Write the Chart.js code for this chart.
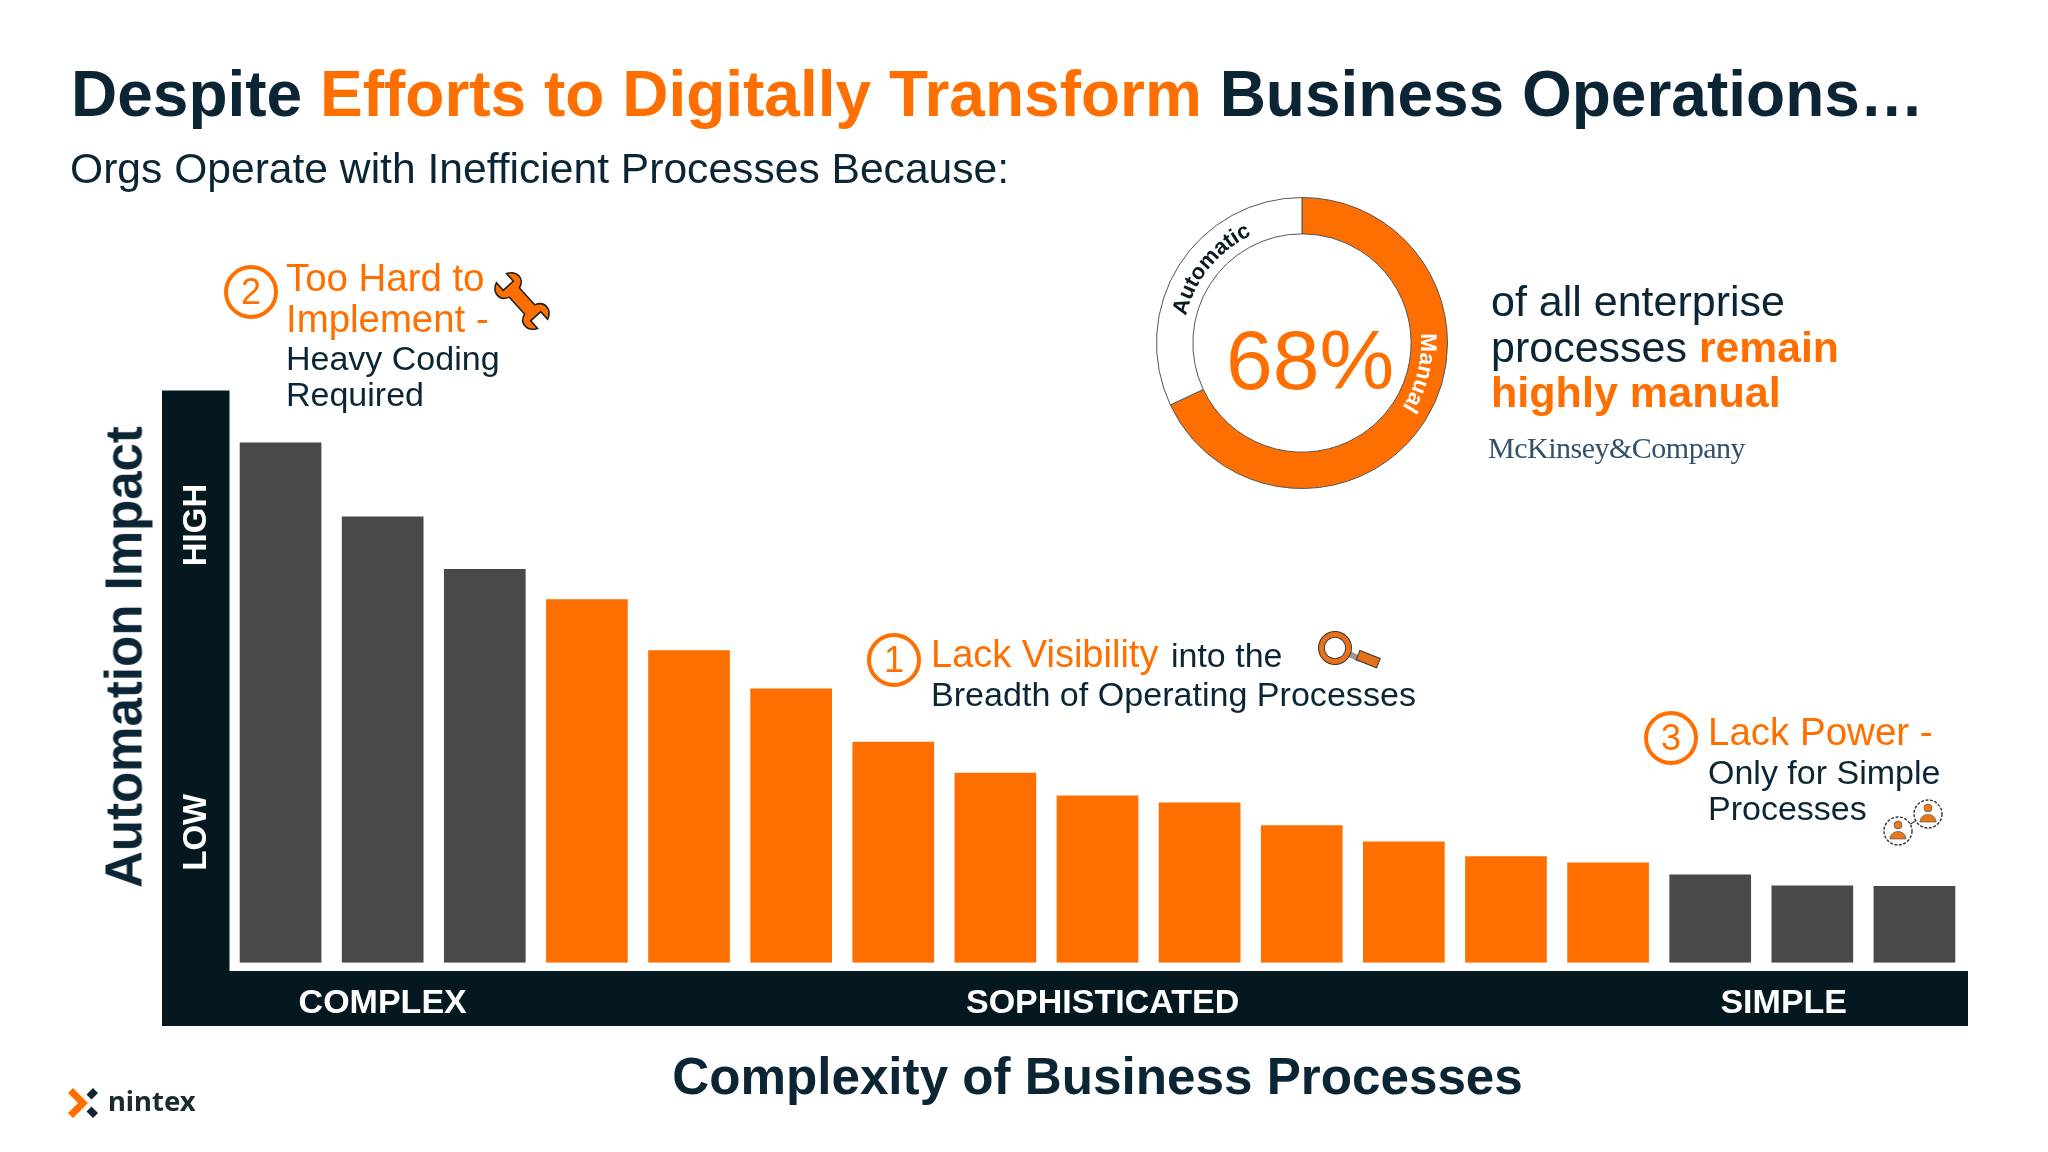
<!DOCTYPE html>
<html>
<head>
<meta charset="utf-8">
<title>Automation Impact</title>
<script src="https://cdn.jsdelivr.net/npm/chart.js@4"></script>
<style>
  html, body { margin: 0; background: #fff; }
  body { position: relative; width: 2048px; height: 1152px; overflow: hidden; font-family: "Liberation Sans", Arial, sans-serif; color: #0b2534; }
  canvas { position: absolute; }
  .t { position: absolute; white-space: nowrap; line-height: 1; }
  .o { color: #ff6f00; }
  .b { font-weight: bold; }
  .num { position: absolute; width: 46px; height: 46px; border: 4px solid #ff6f00; border-radius: 50%; color: #ff6f00; font-size: 36px; line-height: 46px; text-align: center; }
  svg { position: absolute; overflow: visible; }
</style>
</head>
<body>
<canvas id="bars" width="2048" height="1152" style="left:0;top:0"></canvas>
<canvas id="donut" width="292" height="292" style="left:1156px;top:197px"></canvas>

<div class="t b" style="left:71px;top:62px;font-size:64px">Despite <span class="o">Efforts to Digitally Transform</span> Business Operations…</div>
<div class="t" style="left:70px;top:147px;font-size:42.6px">Orgs Operate with Inefficient Processes Because:</div>

<!-- curved labels on the ring -->
<svg style="left:1156px;top:197px" width="292" height="292">
  <path id="arcAuto" fill="none"></path>
  <path id="arcManual" fill="none"></path>
  <text font-size="22" font-weight="bold" fill="#0b1a22" text-anchor="middle"><textPath href="#arcAuto" startOffset="50%">Automatic</textPath></text>
  <text font-size="22.5" font-weight="bold" fill="#fff" text-anchor="middle"><textPath href="#arcManual" startOffset="50%">Manual</textPath></text>
</svg>
<div class="t o" style="left:1226px;top:318px;font-size:84px">68%</div>
<div class="t" style="left:1491px;top:280px;font-size:43px">of all enterprise</div>
<div class="t" style="left:1491px;top:326px;font-size:43px">processes <span class="o b" style="font-size:42.7px">remain</span></div>
<div class="t o b" style="left:1491px;top:371px;font-size:43.1px">highly manual</div>
<div class="t" style="left:1488px;top:433px;font-size:30px;font-family:'Liberation Serif',serif;color:#33506b;letter-spacing:-0.5px">McKinsey&amp;Company</div>

<!-- callout 2 -->
<div class="num" style="left:224px;top:265px">2</div>
<div class="t o" style="left:286px;top:259px;font-size:38.4px">Too Hard to</div>
<div class="t o" style="left:286px;top:300px;font-size:38.4px">Implement -</div>
<div class="t" style="left:286px;top:341px;font-size:34px">Heavy Coding</div>
<div class="t" style="left:286px;top:377px;font-size:34px">Required</div>
<svg style="left:489px;top:268px" width="66" height="66" viewBox="0 0 58 58">
  <g transform="rotate(-42 29 29)" fill="#ff6f00" stroke="#222" stroke-width="1.4">
    <path d="M23 2 L23 11 L35 11 L35 2 C44 6 44 16 35 19 L35 39 C44 42 44 52 35 56 L35 47 L23 47 L23 56 C14 52 14 42 23 39 L23 19 C14 16 14 6 23 2 Z"></path>
  </g>
</svg>

<!-- callout 1 -->
<div class="num" style="left:867px;top:633px">1</div>
<div class="t o" style="left:931px;top:635px;font-size:38px">Lack Visibility <span style="color:#0b2534;font-size:34px;margin-left:2px">into the</span></div>
<div class="t" style="left:931px;top:677px;font-size:34.1px">Breadth of Operating Processes</div>
<svg style="left:1316px;top:630px" width="68" height="42" viewBox="0 0 68 42">
  <line x1="31" y1="23" x2="44" y2="29" stroke="#999" stroke-width="6"></line>
  <rect x="42" y="20" width="22" height="10" fill="#e8701a" stroke="#333" stroke-width="1" transform="rotate(22 42 25)"></rect>
  <circle cx="19" cy="18" r="17" fill="#333"></circle>
  <circle cx="19" cy="18" r="16" fill="#e8701a"></circle>
  <circle cx="19" cy="18" r="11" fill="#333"></circle>
  <circle cx="19" cy="18" r="10.2" fill="#fff"></circle>
</svg>

<!-- callout 3 -->
<div class="num" style="left:1644px;top:711px">3</div>
<div class="t o" style="left:1708px;top:713px;font-size:38.5px">Lack Power -</div>
<div class="t" style="left:1708px;top:755px;font-size:34px">Only for Simple</div>
<div class="t" style="left:1708px;top:791px;font-size:34px">Processes</div>
<svg style="left:1882px;top:798px" width="62" height="52" viewBox="0 0 62 52">
  <line x1="16" y1="33" x2="46" y2="16" stroke="#444" stroke-width="1.4"></line>
  <g fill="#fff" stroke="#333" stroke-width="1.4" stroke-dasharray="3 1.5">
    <circle cx="16" cy="33" r="14"></circle><circle cx="46" cy="16" r="14"></circle>
  </g>
  <g fill="#e8781e" stroke="#333" stroke-width="0.5">
    <circle cx="16" cy="27" r="4"></circle><path d="M8 41 C8 31 24 31 24 41 Z"></path>
    <circle cx="46" cy="10" r="4"></circle><path d="M38 24 C38 14 54 14 54 24 Z"></path>
  </g>
</svg>

<!-- axis title and logo -->
<div class="t b" style="left:124px;top:657px;font-size:51px;transform:translate(-50%,-50%) rotate(-90deg)">Automation Impact</div>
<svg style="left:68px;top:1088px" width="30" height="30" viewBox="0 0 30 30">
  <path d="M0 5 L5 0 L20 15 L5 30 L0 25 L10 15 Z" fill="#ff6f00"></path>
  <path d="M25 0 L30 5 L23.5 11.5 L18.5 6.5 Z M18.5 23.5 L23.5 18.5 L30 25 L25 30 Z" fill="#13262f"></path>
</svg>
<div class="t" style="left:108px;top:1087px;font-size:27.5px;font-weight:bold;color:#1a2a33;font-family:'Noto Sans',sans-serif">nintex</div>

<script>
    // Datos
    const processes = ['P1', 'P2', 'P3', 'P4', 'P5', 'P6', 'P7', 'P8', 'P9', 'P10', 'P11', 'P12', 'P13', 'P14', 'P15', 'P16', 'P17'];
    const impact = [90.9, 78.0, 68.8, 63.5, 54.6, 47.9, 38.6, 33.2, 29.2, 28.0, 24.0, 21.2, 18.6, 17.5, 15.4, 13.5, 13.4];
    const barGroups = ['dark', 'dark', 'dark', 'orange', 'orange', 'orange', 'orange', 'orange', 'orange', 'orange', 'orange', 'orange', 'orange', 'orange', 'dark', 'dark', 'dark'];

    const xTickLabels = ['COMPLEX', 'SOPHISTICATED', 'SIMPLE'];
    const xTickValues = [1, 8.05, 14.72];
    const yTickLabels = ['LOW', 'HIGH'];
    const yTickValues = [22.8, 76.5];

    const donutLabels = ['Manual', 'Automatic'];
    const donutShares = [68, 32];

    const ORANGE = '#ff6f00';
    const GREY = '#4a484b';
    const NAVY = '#05181f';

    // Marco oscuro detrás de los ejes
    const framePlugin = {
        id: 'frame',
        beforeDraw(chart) {
            const { ctx, chartArea, scales } = chart;
            const top = scales.y.getPixelForValue(100);
            ctx.save();
            ctx.fillStyle = NAVY;
            ctx.fillRect(162, top, chartArea.left - 162, 1026 - top);
            ctx.fillRect(162, 971, 1968 - 162, 55);
            ctx.restore();
        }
    };

    new Chart(document.getElementById('bars'), {
        type: 'bar',
        data: {
            labels: processes,
            datasets: [{
                data: impact,
                backgroundColor: barGroups.map(g => g === 'dark' ? GREY : ORANGE),
                barPercentage: 0.8,
                categoryPercentage: 1
            }]
        },
        plugins: [framePlugin],
        options: {
            responsive: false,
            devicePixelRatio: 1,
            animation: false,
            layout: { padding: { left: 90, top: 390.5, right: 82.5, bottom: 0 } },
            plugins: { legend: { display: false }, tooltip: { enabled: false } },
            scales: {
                x: { display: false },
                x2: {
                    type: 'linear',
                    axis: 'x',
                    position: 'bottom',
                    offset: false,
                    bounds: 'data',
                    min: -0.5,
                    max: 16.5,
                    grid: { display: false, drawTicks: false, offset: false },
                    border: { display: false },
                    afterBuildTicks: s => { s.ticks = xTickValues.map(v => ({ value: v })); },
                    afterFit: s => { s.height = 189.3; },
                    ticks: {
                        autoSkip: false,
                        maxRotation: 0,
                        padding: 21,
                        color: '#fff',
                        font: { family: 'Liberation Sans', size: 34, weight: 'bold' },
                        callback: v => xTickLabels[xTickValues.indexOf(v)]
                    },
                    title: {
                        display: true,
                        text: 'Complexity of Business Processes',
                        color: '#0b2534',
                        padding: { bottom: 41 },
                        font: { family: 'Liberation Sans', size: 51.2, weight: 'bold' }
                    }
                },
                y: {
                    min: 0,
                    max: 100,
                    grid: { display: false, drawTicks: false },
                    border: { display: false },
                    afterBuildTicks: s => { s.ticks = yTickValues.map(v => ({ value: v })); },
                    afterFit: s => { s.width = 139.5; },
                    ticks: {
                        autoSkip: false,
                        minRotation: 90,
                        maxRotation: 90,
                        crossAlign: 'center',
                        padding: -9,
                        color: '#fff',
                        font: { family: 'Liberation Sans', size: 33, weight: 'bold' },
                        callback: v => yTickLabels[yTickValues.indexOf(v)]
                    }
                }
            }
        }
    });

    new Chart(document.getElementById('donut'), {
        type: 'doughnut',
        data: {
            labels: donutLabels,
            datasets: [{
                data: donutShares,
                backgroundColor: [ORANGE, '#fff'],
                borderColor: '#555',
                borderWidth: 1
            }]
        },
        options: {
            responsive: false,
            devicePixelRatio: 1,
            animation: false,
            cutout: '75%',
            plugins: { legend: { display: false }, tooltip: { enabled: false } }
        }
    });

    // Arcos para las etiquetas curvas del anillo
    function arcPath(fromDeg, toDeg, r) {
        const pt = d => {
            const a = d * Math.PI / 180;
            return (146 + r * Math.sin(a)).toFixed(1) + ' ' + (146 - r * Math.cos(a)).toFixed(1);
        };
        return `M ${pt(fromDeg)} A ${r} ${r} 0 0 1 ${pt(toDeg)}`;
    }
    document.getElementById('arcAuto').setAttribute('d', arcPath(-101, -1, 119));
    document.getElementById('arcManual').setAttribute('d', arcPath(54, 154, 119));
</script>
</body>
</html>
